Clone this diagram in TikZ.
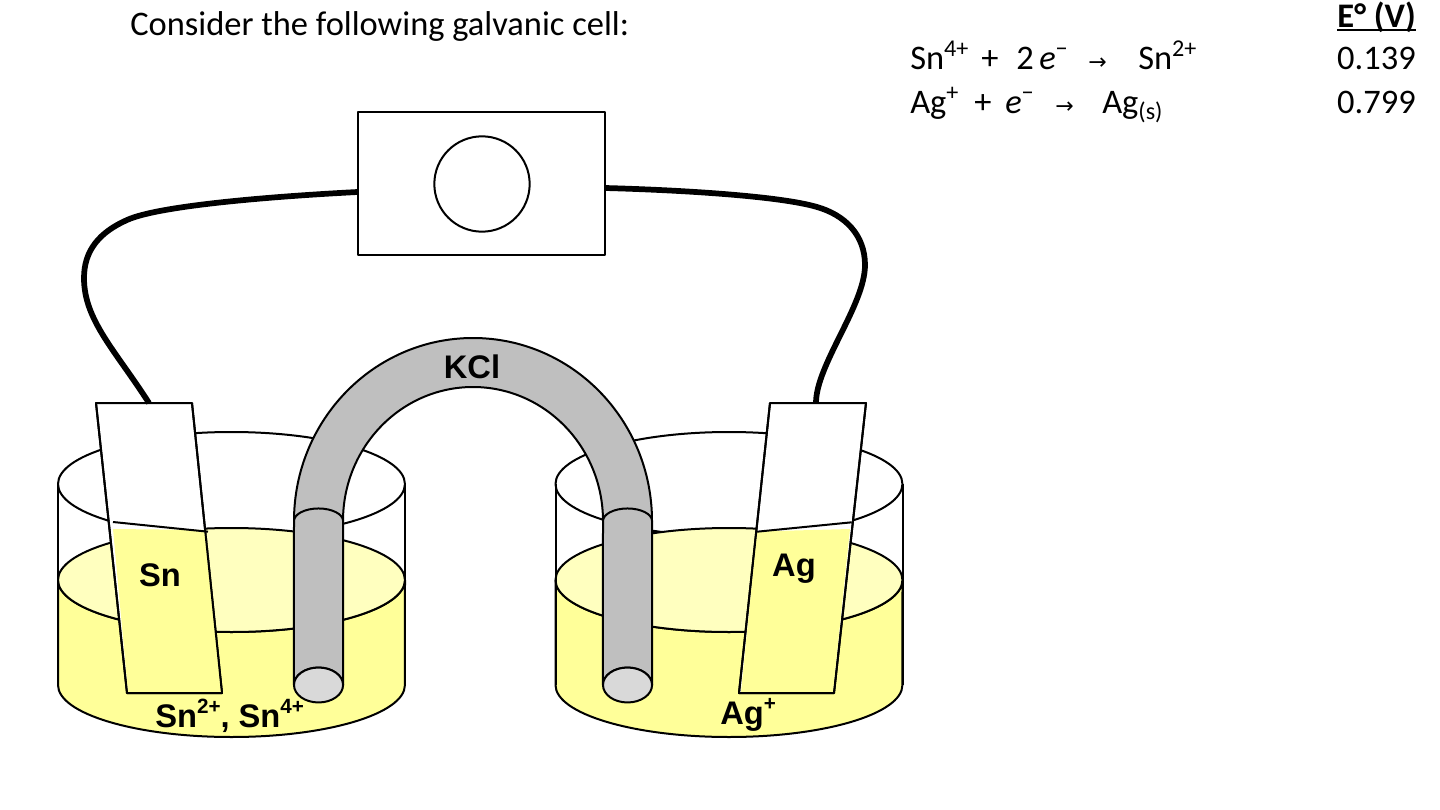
\documentclass[tikz,border=0pt]{standalone}
\usepackage{fontspec}
\setmainfont{Carlito}
\newfontfamily\labelfont{Liberation Sans}[BoldFont={Liberation Sans Bold}]
\newfontfamily\arrowfont{DejaVu Sans}
\definecolor{soln}{HTML}{FFFF99}
\definecolor{surface}{HTML}{FFFFBF}
\definecolor{bridge}{HTML}{BFBFBF}
\definecolor{tubeend}{HTML}{D9D9D9}
\tikzset{
  outline/.style={draw=black,line width=1.5pt,line join=round},
  wire/.style={draw=black,line width=4.3pt},
  chemlabel/.style={font=\labelfont\bfseries\fontsize{24.5}{28}\selectfont,inner sep=0pt,text=black},
  bodytext/.style={font=\fontsize{25.85}{30}\selectfont,inner sep=0pt,text=black},
}
\newcommand{\beaker}[1]{%
  \begin{scope}[xshift=#1*0.75pt]
    \path[outline,fill=white] (58,484) arc[start angle=180,end angle=540,x radius=130.1pt,y radius=39pt];
    \path[outline,fill=soln] (58,580) -- (58,685) arc[start angle=180,end angle=360,x radius=130.1pt,y radius=39pt] -- (405,580) arc[start angle=0,end angle=-180,x radius=130.1pt,y radius=39pt] -- cycle;
    \path[outline,fill=surface] (58,580) arc[start angle=180,end angle=540,x radius=130.1pt,y radius=39pt];
    \draw[outline] (58,484) -- (58,685) (405,484) -- (405,685);
  \end{scope}}
\newcommand{\tubeleg}[1]{%
  \begin{scope}[xshift=#1*0.75pt]
    \path[outline,fill=bridge] (294,521) arc[start angle=180,end angle=360,x radius=18.4pt,y radius=-9.4pt] -- (343,685) arc[start angle=0,end angle=180,x radius=18.4pt,y radius=13.1pt] -- cycle;
    \path[outline,fill=tubeend] (294,685) arc[start angle=180,end angle=540,x radius=18.4pt,y radius=13.1pt];
  \end{scope}}
\newcommand{\ionsup}[1]{\raisebox{.42em}{\fontsize{15.5}{18}\selectfont #1}}
\newcommand{\ul}[1]{\setbox0\hbox{#1}\makebox[0pt][l]{\rule[-3pt]{\wd0}{1.6pt}}\box0 }
\newcommand{\putat}[2]{\makebox[0pt][l]{\hspace{\dimexpr #1pt*3/4\relax}#2}}
\newcommand{\rarrow}{{\arrowfont\fontsize{16.5}{18}\selectfont →}}
\begin{document}
\begin{tikzpicture}[x=0.75pt,y=-0.75pt]
\useasboundingbox (0,0) rectangle (1440,810);
\fill[white] (0,0) rectangle (1440,810);

\beaker{0}
\beaker{497.5}

% salt bridge arch
\path[outline,fill=bridge] (294,521) arc[start angle=180,end angle=0,x radius=134.25pt,y radius=137.25pt]
  -- (603,521) arc[start angle=0,end angle=180,x radius=97.5pt,y radius=100.5pt] -- cycle;
\tubeleg{0}
\tubeleg{309}

% electrodes
\path[outline,fill=white] (96,403) -- (192,403) -- (222,693) -- (127,693) -- cycle;
\fill[soln] (113,529) -- (206,530) -- (221,692) -- (128,692) -- cycle;
\draw[outline] (113,522) -- (208,531.7);
\draw[outline] (192,403) -- (222,693) -- (127,693) -- (96,403);
\path[outline,fill=white] (770,403) -- (866,403) -- (834,693) -- (739,693) -- cycle;
\fill[soln] (757,531.5) -- (850,529) -- (833,692) -- (741,692) -- cycle;
\draw[outline] (757,531.7) -- (851.7,522.3);
\draw[outline] (770,403) -- (739,693) -- (834,693) -- (866,403);

\coordinate (snTop) at (149,403);
\coordinate (agTop) at (816,403);

% meter
\node[outline,fill=white,minimum width=185.25pt,minimum height=107.25pt,inner sep=0pt] (meter) at (481.5,183.5) {};
\node[outline,circle,minimum size=71.5pt,inner sep=0pt] (dial) at (482,184) {};

% wires
\draw[wire] ([yshift=-6.4pt]meter.west) .. controls (280,196) and (160,205) .. (127,220)
  .. controls (100,232) and (84,250) .. (84,278)
  .. controls (84,320) and (115,350) .. (snTop);
\draw[wire] ([yshift=-3.4pt]meter.east) .. controls (680,190) and (780,196) .. (817,207)
  .. controls (845,215) and (865,235) .. (865,265)
  .. controls (865,305) and (816,365) .. (agTop);

% chemical labels
\node[chemlabel] (kcl) at (472,367) {KCl};
\node[chemlabel] (snlabel) at (160,575) {Sn};
\node[chemlabel] (aglabel) at (794,569) {Ag};
\node[chemlabel,anchor=base west] (snions) at (155,727) {Sn\ionsup{2+}, Sn\ionsup{4+}};
\node[chemlabel,anchor=base west] (agions) at (720,724) {Ag\ionsup{+}};

% text
\node[bodytext,anchor=base west] (title) at (130,36) {Consider the following galvanic cell:};
\node[bodytext,anchor=base east] (ehead) at (1416,27) {\ul{\textbf{E° (V)}}};
\node[bodytext,anchor=base east] (e1) at (1416,69) {0.139};
\node[bodytext,anchor=base east] (e2) at (1416,113) {0.799};
\node[bodytext,anchor=base west] (r1) at (910,69) {\putat{0}{Sn\textsuperscript{4+}}\putat{71}{+}\putat{106}{2}\putat{129}{\textit{e}\textsuperscript{−}}\putat{178}{\rarrow}\putat{228}{Sn\textsuperscript{2+}}\hspace{213pt}\strut};
\node[bodytext,anchor=base west] (r2) at (910,113) {\putat{0}{Ag\textsuperscript{+}}\putat{64}{+}\putat{95}{\textit{e}\textsuperscript{−}}\putat{145}{\rarrow}\putat{192}{Ag\textsubscript{(s)}}\hspace{190pt}\strut};
\end{tikzpicture}
\end{document}
